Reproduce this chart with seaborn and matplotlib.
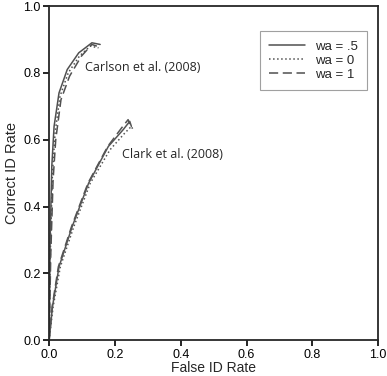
import numpy as np
import pandas as pd
import seaborn as sns
import matplotlib
matplotlib.use("Agg")
import matplotlib.pyplot as plt

# ROC-like curves
carlson_x_05 = [0, 0.003, 0.008, 0.015, 0.03, 0.055, 0.09, 0.13, 0.155]
carlson_y_05 = [0, 0.30, 0.52, 0.64, 0.74, 0.81, 0.86, 0.89, 0.885]
carlson_x_0 = [0, 0.004, 0.010, 0.018, 0.033, 0.058, 0.092, 0.125, 0.15]
carlson_y_0 = [0, 0.28, 0.50, 0.62, 0.73, 0.80, 0.85, 0.88, 0.875]
carlson_x_1 = [0, 0.005, 0.012, 0.020, 0.036, 0.062, 0.098, 0.13, 0.145]
carlson_y_1 = [0, 0.26, 0.48, 0.60, 0.72, 0.79, 0.85, 0.885, 0.88]

clark_x_05 = [0, 0.01, 0.03, 0.07, 0.12, 0.18, 0.225, 0.245, 0.25]
clark_y_05 = [0, 0.10, 0.22, 0.34, 0.47, 0.58, 0.63, 0.655, 0.64]
clark_x_0 = [0, 0.012, 0.034, 0.075, 0.125, 0.185, 0.23, 0.25, 0.255]
clark_y_0 = [0, 0.10, 0.22, 0.34, 0.47, 0.57, 0.62, 0.64, 0.63]
clark_x_1 = [0, 0.009, 0.028, 0.068, 0.118, 0.178, 0.22, 0.24, 0.245]
clark_y_1 = [0, 0.10, 0.22, 0.34, 0.47, 0.58, 0.635, 0.66, 0.645]

legend_labels = ["wa = .5", "wa = 0", "wa = 1"]
styles = ["-", ":", (0, (6, 3))]

sns.set_style("ticks")
plt.rcParams["font.family"] = ["Liberation Sans", "DejaVu Sans"]

fig = plt.figure(figsize=(3.87, 3.76), dpi=100)
ax = fig.add_axes([0.127, 0.095, 0.85, 0.889])

carlson = [(carlson_x_05, carlson_y_05), (carlson_x_0, carlson_y_0), (carlson_x_1, carlson_y_1)]
clark = [(clark_x_05, clark_y_05), (clark_x_0, clark_y_0), (clark_x_1, clark_y_1)]

for (xs, ys), ls, lab in zip(carlson, styles, legend_labels):
    sns.lineplot(x=xs, y=ys, ax=ax, sort=False, color="#505050", linewidth=1.1,
                 linestyle=ls, label=lab)
for (xs, ys), ls in zip(clark, styles):
    sns.lineplot(x=xs, y=ys, ax=ax, sort=False, color="#555555", linewidth=1.1,
                 linestyle=ls, legend=False)

ax.set_xlim(0, 1)
ax.set_ylim(0, 1)
ax.set_xticks([0, 0.2, 0.4, 0.6, 0.8, 1.0])
ax.set_yticks([0, 0.2, 0.4, 0.6, 0.8, 1.0])
ax.set_xticklabels(["0.0", "0.2", "0.4", "0.6", "0.8", "1.0"])
ax.set_yticklabels(["0.0", "0.2", "0.4", "0.6", "0.8", "1.0"])
ax.tick_params(direction="out", length=4, width=1.2, labelsize=9, colors="black", pad=2)
for s in ax.spines.values():
    s.set_linewidth(1.3)
    s.set_visible(True)
ax.set_xlabel("False ID Rate", fontsize=10, labelpad=0)
ax.set_ylabel("Correct ID Rate", fontsize=10.5, labelpad=3)

ax.text(0.11, 0.805, "Carlson et al. (2008)", fontsize=9, family=["Open Sans", "DejaVu Sans"])
ax.text(0.22, 0.545, "Clark et al. (2008)", fontsize=9, family=["Open Sans", "DejaVu Sans"])

leg = ax.legend(loc="upper right", bbox_to_anchor=(0.967, 0.925), borderaxespad=0,
                fontsize=9.5, frameon=True, fancybox=False, handlelength=2.7,
                labelspacing=0.15, borderpad=0.7, handletextpad=0.8)
leg.get_frame().set_edgecolor("#888888")
leg.get_frame().set_linewidth(0.8)

fig.savefig("out.png", dpi=100)
